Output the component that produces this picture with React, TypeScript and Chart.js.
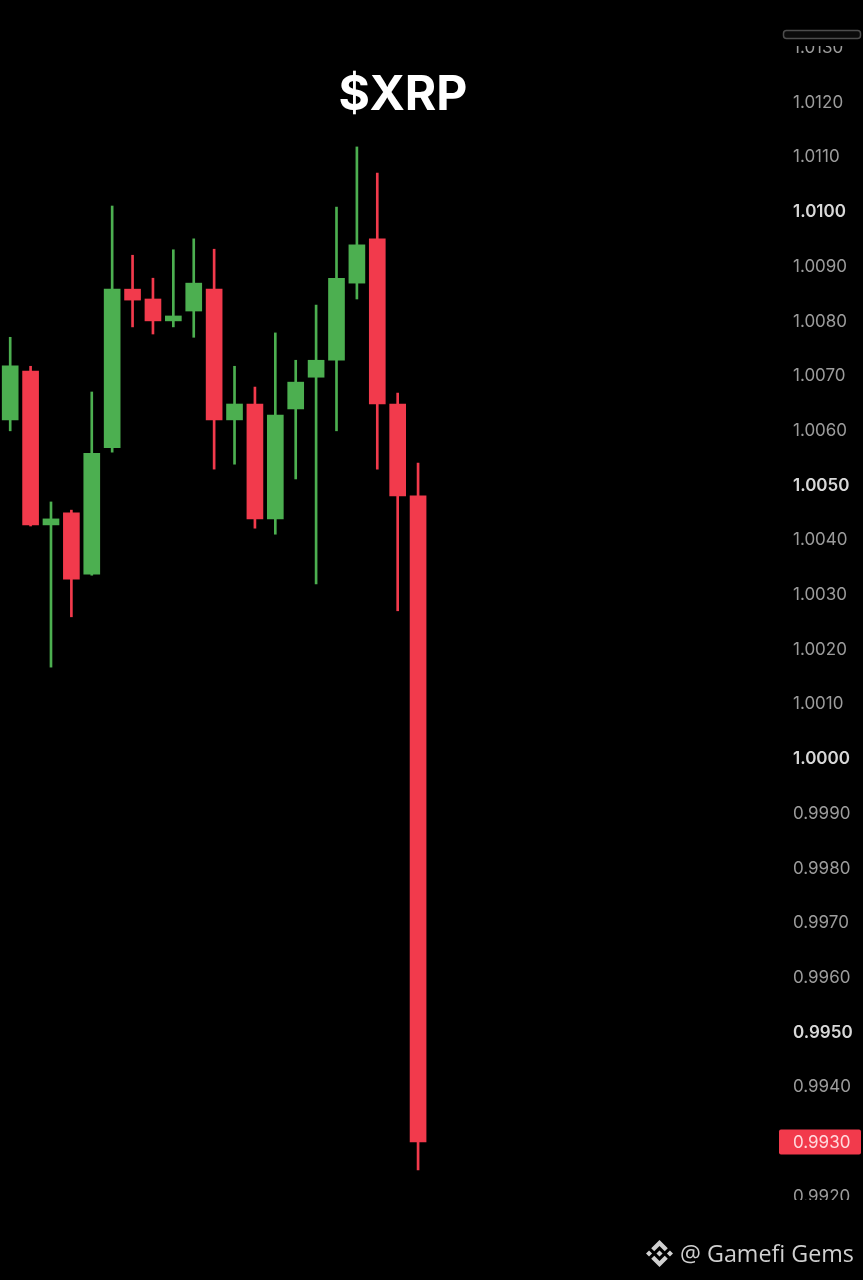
import React, { useEffect, useRef } from "react";
import { Chart, registerables } from "chart.js";

Chart.register(...registerables);

const TITLE = "$XRP";
const WATERMARK = "@ Gamefi Gems";

// OHLC per candle
const opens = [1.0062, 1.00709, 1.00428, 1.0045, 1.00338, 1.00569, 1.00859, 1.00841, 1.00801, 1.00819, 1.00859, 1.0062, 1.00649, 1.00439, 1.0064, 1.00698, 1.00729, 1.0087, 1.00951, 1.00649, 1.00481];
const closes = [1.00719, 1.00428, 1.00439, 1.00329, 1.00559, 1.00859, 1.00839, 1.00801, 1.0081, 1.0087, 1.0062, 1.00649, 1.00439, 1.00629, 1.00689, 1.00729, 1.00879, 1.0094, 1.00649, 1.00481, 0.993];
const highs = [1.00771, 1.00718, 1.0047, 1.00455, 1.00671, 1.01011, 1.00921, 1.00879, 1.00931, 1.00951, 1.00932, 1.00718, 1.0068, 1.00779, 1.00729, 1.0083, 1.01009, 1.01119, 1.01071, 1.00669, 1.00541];
const lows = [1.006, 1.00426, 1.00168, 1.0026, 1.00336, 1.00561, 1.0079, 1.00777, 1.0079, 1.00771, 1.0053, 1.00539, 1.00422, 1.00411, 1.00512, 1.0032, 1.006, 1.00841, 1.0053, 1.00271, 0.99249];

// axis settings
const Y_MIN = 0.99192;
const Y_MAX = 1.01309;
const Y_STEP = 0.001;
const X_MIN = -0.5;
const X_MAX = 37.6;

const GREEN = "#4caf50";
const RED = "#f23a4c";

const isMajor = (v: number) => Math.round(v * 10000) % 50 === 0;

export default function App() {
  const ref = useRef<HTMLCanvasElement>(null);

  useEffect(() => {
    const canvas = ref.current;
    if (!canvas) return;
    const colors = opens.map((o, i) => (closes[i] >= o ? GREEN : RED));
    const bodies = opens.map((o, i) => ({ x: i, y: [o, closes[i]] }));
    const wicks = lows.map((l, i) => ({ x: i, y: [l, highs[i]] }));

    const overlay = {
      id: "overlay",
      afterDraw(chart: any) {
        const ctx = chart.ctx as CanvasRenderingContext2D;
        const ys = chart.scales.y;
        const area = chart.chartArea;
        ctx.save();
        // clip the axis labels at top and bottom
        ctx.fillStyle = "#000";
        ctx.fillRect(area.right, 0, chart.width - area.right, 46);
        ctx.fillRect(area.right, 1200, chart.width - area.right, 36);
        // top box fragment
        ctx.beginPath();
        (ctx as any).roundRect(783.5, 30.5, 77, 8, 3);
        ctx.fillStyle = "#0b0b0b";
        ctx.fill();
        ctx.strokeStyle = "#4d4d4d";
        ctx.lineWidth = 1.5;
        ctx.stroke();
        // last price tag
        const last = closes[closes.length - 1];
        const py = ys.getPixelForValue(last);
        ctx.beginPath();
        (ctx as any).roundRect(779, py - 12.5, 82, 25, 2);
        ctx.fillStyle = RED;
        ctx.fill();
        ctx.fillStyle = "#ffd9dd";
        ctx.font = "17px Inter";
        ctx.textAlign = "left";
        ctx.textBaseline = "middle";
        ctx.fillText(last.toFixed(4), 793, py + 1);
        ctx.restore();
      },
    };

    const chart = new Chart(canvas, {
      type: "bar",
      data: {
        datasets: [
          { data: bodies as any, backgroundColor: colors, barThickness: 16, grouped: false, borderWidth: 0 } as any,
          { data: wicks as any, backgroundColor: colors, barThickness: 2, grouped: false, borderWidth: 0 } as any,
        ],
      },
      options: {
        animation: false,
        responsive: false,
        events: [],
        layout: { padding: { top: 43, bottom: 79, left: 0, right: 0 } },
        plugins: { legend: { display: false }, tooltip: { enabled: false }, title: { display: false } },
        scales: {
          x: { type: "linear", min: X_MIN, max: X_MAX, offset: false, display: false },
          y: {
            position: "right",
            min: Y_MIN,
            max: Y_MAX,
            grid: { display: false, drawTicks: false },
            border: { display: false },
            ticks: {
              stepSize: Y_STEP,
              includeBounds: false,
              autoSkip: false,
              maxTicksLimit: 100,
              padding: 16,
              callback: (v: any) => Number(v).toFixed(4),
              font: (c: any) => ({ family: "Inter", size: 17, weight: c.tick && isMajor(c.tick.value) ? "600" : "400" }),
              color: (c: any) => (c.tick && isMajor(c.tick.value) ? "#d8d8d8" : "#9c9c9c"),
            },
            afterFit: (s: any) => {
              s.width = 86;
              s.paddingTop = 0;
              s.paddingBottom = 0;
            },
          } as any,
        },
      },
      plugins: [overlay],
    });
    return () => chart.destroy();
  }, []);

  return (
    <div style={{ position: "fixed", left: 0, top: 0, width: 863, height: 1280, background: "#000", overflow: "hidden" }}>
      <canvas ref={ref} width={863} height={1280} style={{ display: "block", width: 863, height: 1280 }} />
      <div
        style={{
          position: "absolute",
          left: 0,
          width: 806,
          top: 69,
          textAlign: "center",
          fontFamily: "Inter, sans-serif",
          fontWeight: 700,
          fontSize: 48,
          lineHeight: "48px",
          color: "#fff",
        }}
      >
        {TITLE}
      </div>
      <svg style={{ position: "absolute", left: 646, top: 1240 }} width={27} height={27} viewBox="0 0 126.61 126.61">
        <g fill="#d0d0d0">
          <path d="m38.73 53.2 24.59-24.58 24.6 24.6 14.3-14.31L63.32 0 24.43 38.9zM0 63.31l14.3-14.31 14.31 14.31-14.31 14.3zM38.73 73.41l24.59 24.59 24.6-24.6 14.31 14.29-38.9 38.91-38.91-38.88zM98 63.31l14.3-14.31 14.31 14.3-14.31 14.32z" />
          <path d="m77.83 63.3-14.51-14.52-10.73 10.73-1.24 1.23-2.54 2.54 14.51 14.5 14.51-14.47z" />
        </g>
      </svg>
      <div
        style={{
          position: "absolute",
          left: 680,
          top: 1241,
          fontFamily: "'Open Sans', sans-serif",
          fontSize: 23.3,
          lineHeight: "24px",
          color: "#d0d0d0",
          whiteSpace: "nowrap",
        }}
      >
        {WATERMARK}
      </div>
    </div>
  );
}
